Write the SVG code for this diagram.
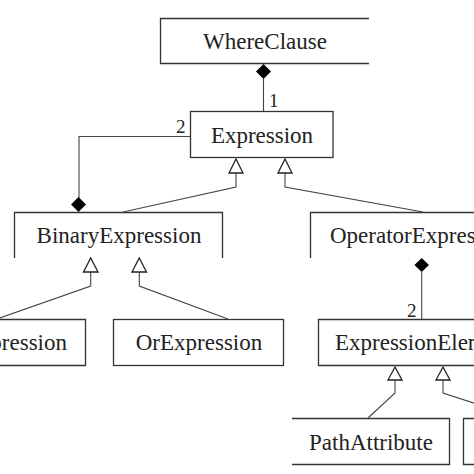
<svg xmlns="http://www.w3.org/2000/svg" width="474" height="474" viewBox="0 0 474 474">
<style>
.box{fill:none;stroke:#333;stroke-width:1.3}
.t{font-family:"Liberation Serif","Times New Roman",serif;font-size:23px;fill:#222}
.m{font-family:"Liberation Serif","Times New Roman",serif;font-size:19px;fill:#222}
.c{fill:none;stroke:#444;stroke-width:1.1}
.tri{fill:#fff;stroke:#222;stroke-width:1.3}
.dia{fill:#000;stroke:none}
</style>
<rect width="474" height="474" fill="#fff"/>
<g id="WhereClause">
<path class="box" d="M369 18.5H160.5V63.5H369"/>
<text class="t" x="265" y="48.5" text-anchor="middle">WhereClause</text>
</g>
<g id="Expression">
<rect class="box" x="190.5" y="111.5" width="142.5" height="46"/>
<text class="t" x="262" y="142.5" text-anchor="middle">Expression</text>
</g>
<g id="BinaryExpression">
<path class="box" d="M14.5 258V212.5H222.5V258"/>
<text class="t" x="119" y="243" text-anchor="middle">BinaryExpression</text>
</g>
<g id="OperatorExpression">
<path class="box" d="M310.5 258V212.5H480"/>
<text class="t" x="330" y="243">OperatorExpression</text>
</g>
<g id="AndExpression">
<path class="box" d="M-5 319.5H85.5V365.5H-5"/>
<text class="t" x="67" y="349.5" text-anchor="end">AndExpression</text>
</g>
<g id="OrExpression">
<rect class="box" x="113.5" y="319.5" width="170" height="46"/>
<text class="t" x="199" y="349.5" text-anchor="middle">OrExpression</text>
</g>
<g id="ExpressionElement">
<path class="box" d="M480 319.5H318.5V365.5H480"/>
<text class="t" x="335" y="349.5">ExpressionElement</text>
</g>
<g id="PathAttribute">
<path class="box" d="M292 418.5H449.5V464.5H292"/>
<text class="t" x="371" y="449.5" text-anchor="middle">PathAttribute</text>
</g>
<g id="RightNode">
<path class="box" d="M480 418.5H463.5V464.5H480"/>
</g>
<g id="connectors">
<path class="c" d="M263.5 79V111" stroke="#888"/>
<polygon class="dia" points="263.5,64 271,71.5 263.5,79 256,71.5"/>
<text class="m" x="269" y="107">1</text>
<path class="c" d="M190 136.5H79V198" stroke-width="1.5"/>
<polygon class="dia" points="78.5,197 86,204.5 78.5,212 71,204.5"/>
<text class="m" x="176" y="133">2</text>
<path class="c" d="M236 173V187L123 212"/>
<polygon class="tri" points="236,159 243,173 229,173"/>
<path class="c" d="M285 173V187L423 212"/>
<polygon class="tri" points="285,159 292,173 278,173"/>
<path class="c" d="M90.7 272V286L-3 319"/>
<polygon class="tri" points="90.7,258 98,272 83.5,272"/>
<path class="c" d="M139.3 272V286L228 319"/>
<polygon class="tri" points="139.3,258 146.5,272 132,272"/>
<path class="c" d="M421.7 272V319" stroke="#888"/>
<polygon class="dia" points="421.7,258 429,265 421.7,272 414.4,265"/>
<text class="m" x="407" y="317">2</text>
<path class="c" d="M395 380V393L368 418"/>
<polygon class="tri" points="395,367 402,380 388,380"/>
<path class="c" d="M443 380V393L520 418"/>
<polygon class="tri" points="443,367 450,380 436,380"/>
</g>
</svg>
